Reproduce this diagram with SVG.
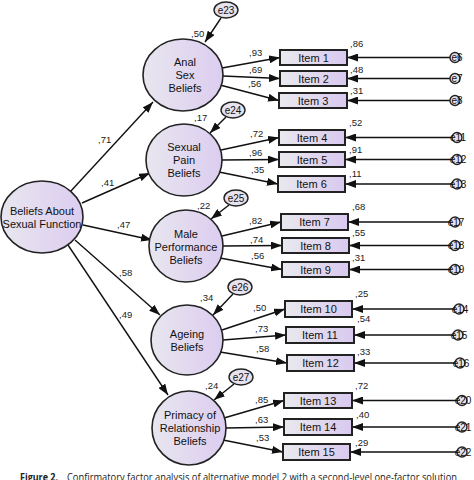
<svg xmlns="http://www.w3.org/2000/svg" width="474" height="480" viewBox="0 0 474 480">
<defs>
<linearGradient id="gc" x1="0" y1="0" x2="1" y2="0">
<stop offset="0" stop-color="#e8e6ef"/>
<stop offset="1" stop-color="#dccdf0"/>
</linearGradient>
<linearGradient id="gb" x1="0" y1="0" x2="1" y2="0">
<stop offset="0" stop-color="#e9e9ee"/>
<stop offset="1" stop-color="#d9c9ef"/>
</linearGradient>
<marker id="ah" markerUnits="userSpaceOnUse" markerWidth="11" markerHeight="8" refX="11" refY="4" orient="auto">
<path d="M0,0 L11,4 L0,8 z" fill="#111"/>
</marker>
</defs>
<style>
.f{fill:url(#gc);stroke:#222;stroke-width:1.6}
.b{fill:url(#gb);stroke:#222;stroke-width:2}
.e{fill:#e6e2ee;stroke:#222;stroke-width:1.4}
.t{font-family:"Liberation Sans",Arial,sans-serif;font-size:11px;fill:#111;text-anchor:middle}
.n{font-family:"Liberation Sans",Arial,sans-serif;font-size:9.5px;fill:#222}
.el{font-family:"Liberation Sans",Arial,sans-serif;font-size:10px;fill:#111;text-anchor:middle}
.c{stroke:#111;stroke-width:1.4;fill:none;marker-end:url(#ah)}
.cap{font-family:"Open Sans","Liberation Sans",sans-serif;font-size:10.5px;fill:#222}
</style>
<rect width="474" height="480" fill="#fff"/>

<g id="connectors">
<line class="c" x1="70" y1="192" x2="153" y2="102"/>
<line class="c" x1="82" y1="203" x2="150" y2="173"/>
<line class="c" x1="83" y1="225" x2="152" y2="240"/>
<line class="c" x1="75" y1="240" x2="160" y2="315"/>
<line class="c" x1="68" y1="245" x2="168" y2="395"/>
<line class="c" x1="221" y1="18" x2="205" y2="42"/>
<line class="c" x1="226" y1="117" x2="210" y2="133"/>
<line class="c" x1="229" y1="205" x2="211" y2="219"/>
<line class="c" x1="233" y1="294" x2="213" y2="315"/>
<line class="c" x1="234" y1="384" x2="214" y2="400"/>
<line class="c" x1="222" y1="68" x2="280" y2="57.5"/>
<line class="c" x1="223" y1="76" x2="280" y2="78.5"/>
<line class="c" x1="220" y1="85" x2="279" y2="100.5"/>
<line class="c" x1="221" y1="150" x2="279" y2="137.5"/>
<line class="c" x1="222" y1="160" x2="279" y2="159.5"/>
<line class="c" x1="219" y1="172" x2="278" y2="184"/>
<line class="c" x1="222" y1="236" x2="281" y2="222"/>
<line class="c" x1="223" y1="246" x2="282" y2="245.5"/>
<line class="c" x1="220" y1="258" x2="282" y2="269.5"/>
<line class="c" x1="222" y1="330" x2="285" y2="309"/>
<line class="c" x1="223" y1="340" x2="286" y2="335"/>
<line class="c" x1="220" y1="352" x2="287" y2="363"/>
<line class="c" x1="224" y1="418" x2="284" y2="400.5"/>
<line class="c" x1="226" y1="428" x2="284" y2="427"/>
<line class="c" x1="223" y1="440" x2="283" y2="452"/>
<line class="c" x1="450" y1="57.5" x2="347" y2="57.5"/>
<line class="c" x1="450" y1="78.5" x2="347" y2="78.5"/>
<line class="c" x1="450" y1="100.5" x2="347" y2="100.5"/>
<line class="c" x1="452" y1="137.5" x2="345" y2="137.5"/>
<line class="c" x1="452" y1="159.5" x2="345" y2="159.5"/>
<line class="c" x1="452" y1="184" x2="345" y2="184"/>
<line class="c" x1="450" y1="222" x2="348" y2="222"/>
<line class="c" x1="450" y1="245.5" x2="349" y2="245.5"/>
<line class="c" x1="450" y1="269.5" x2="349" y2="269.5"/>
<line class="c" x1="454" y1="309" x2="352" y2="309"/>
<line class="c" x1="453" y1="335" x2="354" y2="335"/>
<line class="c" x1="455" y1="363" x2="354" y2="363"/>
<line class="c" x1="457" y1="400.5" x2="352" y2="400.5"/>
<line class="c" x1="457" y1="427" x2="352" y2="427"/>
<line class="c" x1="457" y1="452" x2="350" y2="452"/>
</g>

<g id="connector-labels">
<text class="n" x="98" y="143">,71</text>
<text class="n" x="101" y="186">,41</text>
<text class="n" x="117" y="228">,47</text>
<text class="n" x="119" y="276">,58</text>
<text class="n" x="119" y="318">,49</text>
<text class="n" x="191" y="37">,50</text>
<text class="n" x="194" y="121">,17</text>
<text class="n" x="197" y="209">,22</text>
<text class="n" x="200" y="301">,34</text>
<text class="n" x="205" y="389">,24</text>
<text class="n" x="249" y="56">,93</text>
<text class="n" x="249" y="73">,69</text>
<text class="n" x="248" y="87">,56</text>
<text class="n" x="250" y="137">,72</text>
<text class="n" x="249" y="156">,96</text>
<text class="n" x="251" y="173">,35</text>
<text class="n" x="249" y="224">,82</text>
<text class="n" x="250" y="243">,74</text>
<text class="n" x="251" y="259">,56</text>
<text class="n" x="253" y="311">,50</text>
<text class="n" x="255" y="332">,73</text>
<text class="n" x="256" y="352">,58</text>
<text class="n" x="255" y="403">,85</text>
<text class="n" x="255" y="423">,63</text>
<text class="n" x="256" y="441">,53</text>
<text class="n" x="350" y="47">,86</text>
<text class="n" x="350" y="73">,48</text>
<text class="n" x="350" y="94">,31</text>
<text class="n" x="349" y="126">,52</text>
<text class="n" x="349" y="153">,91</text>
<text class="n" x="349" y="177">,11</text>
<text class="n" x="352" y="210">,68</text>
<text class="n" x="352" y="236">,55</text>
<text class="n" x="352" y="261">,31</text>
<text class="n" x="355" y="297">,25</text>
<text class="n" x="357" y="322">,54</text>
<text class="n" x="357" y="355">,33</text>
<text class="n" x="355" y="389">,72</text>
<text class="n" x="356" y="418">,40</text>
<text class="n" x="355" y="446">,29</text>
</g>

<g id="beliefs-about-sexual-function">
<ellipse class="f" cx="42" cy="217" rx="41" ry="36"/>
<text class="t" x="42" y="215">Beliefs About</text>
<text class="t" x="42" y="228">Sexual Function</text>
</g>

<g id="anal-sex-beliefs">
<ellipse class="f" cx="183" cy="75" rx="40" ry="36"/>
<text class="t" x="185" y="66">Anal</text>
<text class="t" x="185" y="79">Sex</text>
<text class="t" x="185" y="92">Beliefs</text>
</g>
<g id="e23"><ellipse class="e" cx="226" cy="10" rx="12" ry="8"/><text class="el" x="226" y="14">e23</text></g>

<g id="sexual-pain-beliefs">
<ellipse class="f" cx="184" cy="160" rx="38" ry="36"/>
<text class="t" x="184" y="151">Sexual</text>
<text class="t" x="184" y="164">Pain</text>
<text class="t" x="184" y="177">Beliefs</text>
</g>
<g id="e24"><ellipse class="e" cx="233" cy="110" rx="12" ry="8"/><text class="el" x="233" y="114">e24</text></g>

<g id="male-performance-beliefs">
<ellipse class="f" cx="186" cy="246" rx="37" ry="36"/>
<text class="t" x="186" y="238">Male</text>
<text class="t" x="186" y="251">Performance</text>
<text class="t" x="186" y="264">Beliefs</text>
</g>
<g id="e25"><ellipse class="e" cx="236" cy="198" rx="12" ry="8"/><text class="el" x="236" y="202">e25</text></g>

<g id="ageing-beliefs">
<ellipse class="f" cx="187" cy="340" rx="36" ry="35"/>
<text class="t" x="187" y="338">Ageing</text>
<text class="t" x="187" y="351">Beliefs</text>
</g>
<g id="e26"><ellipse class="e" cx="240" cy="287" rx="12" ry="8"/><text class="el" x="240" y="291">e26</text></g>

<g id="primacy-of-relationship-beliefs">
<ellipse class="f" cx="189" cy="428" rx="37" ry="37"/>
<text class="t" x="190" y="419">Primacy of</text>
<text class="t" x="190" y="432">Relationship</text>
<text class="t" x="190" y="445">Beliefs</text>
</g>
<g id="e27"><ellipse class="e" cx="241" cy="377" rx="12" ry="8"/><text class="el" x="241" y="381">e27</text></g>

<g id="item1"><rect class="b" x="280" y="50" width="67" height="15"/><text class="t" x="313.5" y="61.5">Item 1</text></g>
<g id="item2"><rect class="b" x="280" y="71" width="67" height="15"/><text class="t" x="313.5" y="82.5">Item 2</text></g>
<g id="item3"><rect class="b" x="279" y="93" width="68" height="15"/><text class="t" x="313" y="104.5">Item 3</text></g>
<g id="item4"><rect class="b" x="279" y="130" width="66" height="15"/><text class="t" x="312" y="141.5">Item 4</text></g>
<g id="item5"><rect class="b" x="279" y="152" width="66" height="15"/><text class="t" x="312" y="163.5">Item 5</text></g>
<g id="item6"><rect class="b" x="278" y="176" width="67" height="16"/><text class="t" x="311.5" y="188">Item 6</text></g>
<g id="item7"><rect class="b" x="281" y="214" width="67" height="16"/><text class="t" x="314.5" y="226">Item 7</text></g>
<g id="item8"><rect class="b" x="282" y="238" width="67" height="15"/><text class="t" x="315.5" y="249.5">Item 8</text></g>
<g id="item9"><rect class="b" x="282" y="262" width="67" height="15"/><text class="t" x="315.5" y="273.5">Item 9</text></g>
<g id="item10"><rect class="b" x="285" y="301" width="67" height="16"/><text class="t" x="318.5" y="313">Item 10</text></g>
<g id="item11"><rect class="b" x="286" y="327" width="68" height="16"/><text class="t" x="320" y="339">Item 11</text></g>
<g id="item12"><rect class="b" x="287" y="355" width="67" height="16"/><text class="t" x="320.5" y="367">Item 12</text></g>
<g id="item13"><rect class="b" x="284" y="393" width="68" height="15"/><text class="t" x="318" y="404.5">Item 13</text></g>
<g id="item14"><rect class="b" x="284" y="419" width="68" height="16"/><text class="t" x="318" y="431">Item 14</text></g>
<g id="item15"><rect class="b" x="283" y="444" width="67" height="16"/><text class="t" x="316.5" y="456">Item 15</text></g>

<g id="item-errors">
<circle class="e" cx="455" cy="57.5" r="5"/><text class="el" x="457" y="61">e6</text>
<circle class="e" cx="455" cy="78.5" r="5"/><text class="el" x="457" y="82">e7</text>
<circle class="e" cx="455" cy="100.5" r="5"/><text class="el" x="457" y="104">e8</text>
<circle class="e" cx="457" cy="137.5" r="5"/><text class="el" x="458" y="141">e11</text>
<circle class="e" cx="457" cy="159.5" r="5"/><text class="el" x="458" y="163">e12</text>
<circle class="e" cx="457" cy="184" r="5"/><text class="el" x="458" y="187.5">e13</text>
<circle class="e" cx="455" cy="222" r="5"/><text class="el" x="456" y="225.5">e17</text>
<circle class="e" cx="455" cy="245.5" r="5"/><text class="el" x="456" y="249">e18</text>
<circle class="e" cx="455" cy="269.5" r="5"/><text class="el" x="456" y="273">e19</text>
<circle class="e" cx="459" cy="309" r="5"/><text class="el" x="460" y="312.5">e14</text>
<circle class="e" cx="458" cy="335" r="5"/><text class="el" x="459" y="338.5">e15</text>
<circle class="e" cx="460" cy="363" r="5"/><text class="el" x="461" y="366.5">e16</text>
<circle class="e" cx="462" cy="400.5" r="5"/><text class="el" x="463" y="404">e20</text>
<circle class="e" cx="462" cy="427" r="5"/><text class="el" x="463" y="430.5">e21</text>
<circle class="e" cx="462" cy="452" r="5"/><text class="el" x="463" y="455.5">e22</text>
</g>

<g id="caption">
<text class="cap" x="20" y="481" font-weight="bold" textLength="38" lengthAdjust="spacingAndGlyphs">Figure 2.</text>
<text class="cap" x="67" y="481" textLength="390" lengthAdjust="spacingAndGlyphs">Confirmatory factor analysis of alternative model 2 with a second-level one-factor solution</text>
</g>
</svg>
